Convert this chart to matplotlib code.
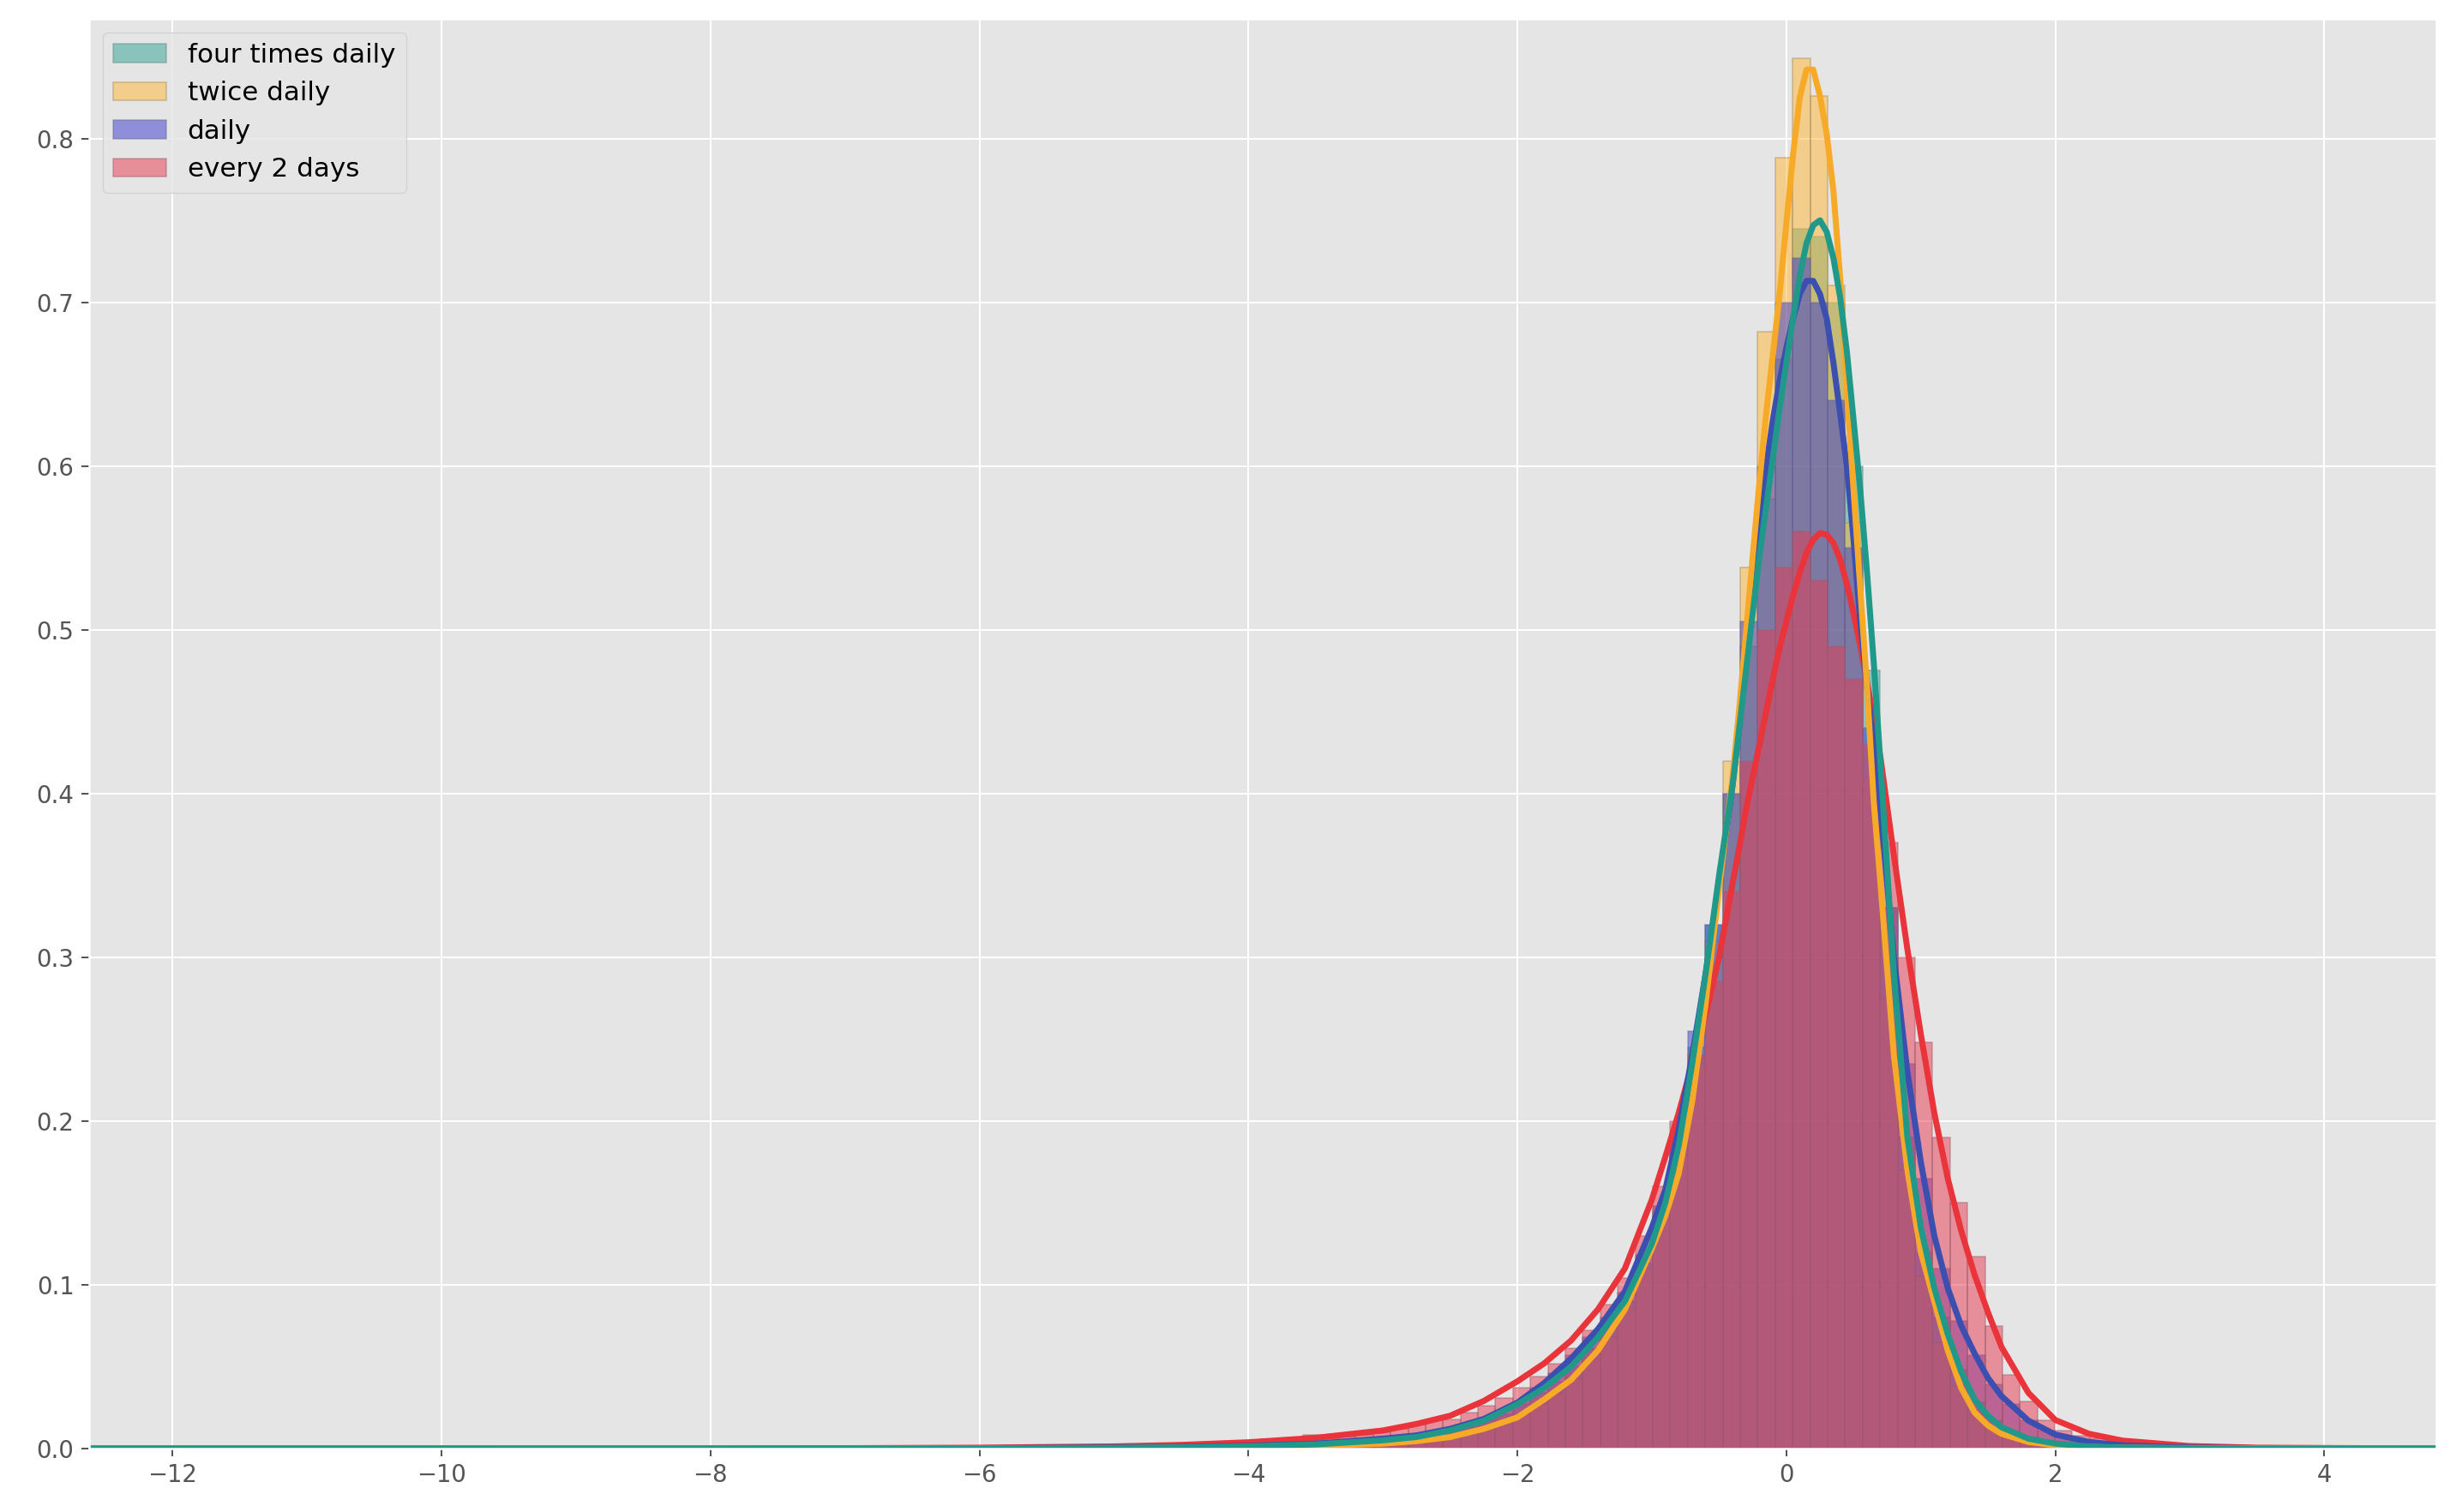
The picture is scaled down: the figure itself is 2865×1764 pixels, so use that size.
import matplotlib
matplotlib.use('Agg')
import matplotlib.pyplot as plt
import numpy as np

plt.style.use('ggplot')

labels = ['four times daily', 'twice daily', 'daily', 'every 2 days']

# fitted density curves (they run over the whole x range)
curve_x = [-12.62, -10.0, -8.0, -7.0, -6.0, -5.0, -4.5, -4.0, -3.5, -3.0, -2.75, -2.5, -2.25, -2.0,
           -1.8, -1.6, -1.4, -1.2, -1.0, -0.9, -0.8, -0.7, -0.6, -0.5, -0.4, -0.35, -0.3, -0.25,
           -0.2, -0.15, -0.1, -0.05, 0.0, 0.05, 0.1, 0.15, 0.2, 0.25, 0.3, 0.35, 0.4, 0.45, 0.5,
           0.55, 0.6, 0.65, 0.7, 0.8, 0.9, 1.0, 1.1, 1.2, 1.3, 1.4, 1.5, 1.6, 1.8, 2.0, 2.25, 2.5,
           3.0, 3.5, 4.83]

pdf_four = [0, 0, 0, 0.00005, 0.0001, 0.0004, 0.0007, 0.0013, 0.0025, 0.005, 0.007, 0.011, 0.017, 0.027,
            0.037, 0.05, 0.068, 0.09, 0.125, 0.15, 0.185, 0.235, 0.29, 0.35, 0.405, 0.44, 0.475, 0.51,
            0.545, 0.575, 0.605, 0.635, 0.663, 0.69, 0.716, 0.736, 0.747, 0.750, 0.743, 0.727, 0.703, 0.67, 0.628,
            0.585, 0.535, 0.48, 0.418, 0.29, 0.19, 0.135, 0.098, 0.07, 0.047, 0.03, 0.02, 0.013, 0.006, 0.003, 0.0012, 0.0005,
            0.0001, 0, 0]

pdf_twice = [0, 0, 0, 0.00005, 0.0001, 0.0002, 0.0004, 0.0008, 0.0015, 0.003, 0.0045, 0.007, 0.012, 0.019,
             0.03, 0.042, 0.06, 0.085, 0.122, 0.142, 0.168, 0.212, 0.272, 0.342, 0.41, 0.452, 0.498, 0.545,
             0.59, 0.632, 0.668, 0.705, 0.748, 0.79, 0.825, 0.842, 0.842, 0.826, 0.803, 0.768, 0.715, 0.645, 0.585,
             0.525, 0.465, 0.395, 0.345, 0.24, 0.17, 0.12, 0.09, 0.06, 0.037, 0.022, 0.014, 0.009, 0.004, 0.002, 0.001, 0.0005,
             0.0002, 0.0001, 0]

pdf_daily = [0, 0, 0.00005, 0.0001, 0.0002, 0.0006, 0.001, 0.0017, 0.003, 0.006, 0.008, 0.012, 0.018, 0.028,
             0.04, 0.055, 0.073, 0.096, 0.135, 0.158, 0.195, 0.24, 0.29, 0.345, 0.405, 0.44, 0.485, 0.53,
             0.57, 0.60, 0.628, 0.652, 0.672, 0.69, 0.705, 0.713, 0.713, 0.705, 0.69, 0.663, 0.632, 0.60, 0.555,
             0.505, 0.465, 0.43, 0.39, 0.30, 0.23, 0.175, 0.13, 0.098, 0.075, 0.058, 0.043, 0.032, 0.017, 0.0085, 0.004, 0.002,
             0.0006, 0.0002, 0]

pdf_2days = [0, 0.00005, 0.0001, 0.0002, 0.0005, 0.0013, 0.0022, 0.0038, 0.0065, 0.011, 0.015, 0.02, 0.029, 0.041,
             0.052, 0.066, 0.085, 0.11, 0.152, 0.178, 0.205, 0.235, 0.265, 0.30, 0.345, 0.367, 0.39, 0.41,
             0.43, 0.45, 0.47, 0.489, 0.505, 0.521, 0.535, 0.547, 0.555, 0.559, 0.558, 0.553, 0.543, 0.528, 0.51,
             0.49, 0.468, 0.445, 0.422, 0.362, 0.305, 0.253, 0.205, 0.165, 0.133, 0.106, 0.083, 0.062, 0.034, 0.0174, 0.009, 0.0048,
             0.0015, 0.0005, 0]

# histogram bar heights (density), bins of width 0.13 starting at -5.153
bin_start = -5.153
bin_width = 0.13

hist_four = [0.0004, 0.0004, 0.0005, 0.0005, 0.0006, 0.0007, 0.0008, 0.0009, 0.0011, 0.0013,
             0.0015, 0.0018, 0.0022, 0.0026, 0.0031, 0.0037, 0.0045, 0.0055, 0.0068, 0.0085,
             0.0105, 0.013, 0.017, 0.021, 0.027, 0.034, 0.041, 0.05, 0.061, 0.074, 0.09, 0.113, 0.14,
             0.19, 0.245, 0.32, 0.40, 0.49, 0.58, 0.665,
             0.745, 0.74, 0.70, 0.60, 0.475, 0.33, 0.19,
             0.12, 0.08, 0.048, 0.028, 0.017, 0.01, 0.006, 0.0035, 0.0022, 0.0014, 0.0009, 0.0006,
             0.0004, 0.0003, 0.0002, 0.0001, 0.0001, 0, 0, 0, 0]

hist_twice = [0.0002, 0.0002, 0.0003, 0.0003, 0.0004, 0.0004, 0.0005, 0.0006, 0.0007, 0.0008,
              0.001, 0.0012, 0.0014, 0.0017, 0.002, 0.0025, 0.003, 0.0037, 0.0045, 0.0058,
              0.0072, 0.0095, 0.0125, 0.016, 0.021, 0.027, 0.034, 0.043, 0.055, 0.068, 0.086, 0.11, 0.145,
              0.18, 0.235, 0.31, 0.42, 0.538, 0.682, 0.788,
              0.849, 0.826, 0.71, 0.565, 0.41, 0.275, 0.17,
              0.105, 0.065, 0.038, 0.021, 0.012, 0.0075, 0.0045, 0.0025, 0.0015, 0.001, 0.0007, 0.0005,
              0.0003, 0.0002, 0.0001, 0.0001, 0.0001, 0, 0, 0, 0]

hist_daily = [0.0005, 0.0006, 0.0007, 0.0008, 0.0009, 0.001, 0.0011, 0.0013, 0.0015, 0.0017,
              0.002, 0.0023, 0.0027, 0.0032, 0.0038, 0.0045, 0.0055, 0.0066, 0.008, 0.0097,
              0.012, 0.015, 0.019, 0.023, 0.029, 0.037, 0.046, 0.057, 0.068, 0.08, 0.095, 0.118, 0.148,
              0.19, 0.255, 0.32, 0.40, 0.505, 0.60, 0.70,
              0.727, 0.70, 0.64, 0.55, 0.44, 0.33, 0.235,
              0.165, 0.11, 0.078, 0.057, 0.039, 0.027, 0.017, 0.011, 0.007, 0.0045, 0.003, 0.002,
              0.0015, 0.0011, 0.0008, 0.0006, 0.0004, 0.0003, 0.0002, 0.0002, 0.0001]

hist_2days = [0.0012, 0.0014, 0.0016, 0.0018, 0.002, 0.0022, 0.0025, 0.0029, 0.0033, 0.0038,
              0.0043, 0.0049, 0.0085, 0.0064, 0.0073, 0.0085, 0.01, 0.012, 0.0145, 0.017,
              0.018, 0.022, 0.026, 0.031, 0.037, 0.044, 0.052, 0.061, 0.072, 0.088, 0.104, 0.13, 0.16,
              0.2, 0.24, 0.285, 0.34, 0.42, 0.50, 0.538,
              0.560, 0.53, 0.49, 0.47, 0.43, 0.37, 0.30,
              0.248, 0.19, 0.15, 0.117, 0.075, 0.045, 0.029, 0.017, 0.011, 0.008, 0.006, 0.0045,
              0.0035, 0.0027, 0.002, 0.0015, 0.0011, 0.0008, 0.0006, 0.0005, 0.0004]

hist_values = [hist_four, hist_twice, hist_daily, hist_2days]
pdf_values = [pdf_four, pdf_twice, pdf_daily, pdf_2days]
hist_colors = ['#2fa393', '#ffb733', '#3838d0', '#e83a50']
edge_colors = ['#5f8a84', '#a08a60', '#6a6a98', '#9a6070']
line_colors = ['#21998a', '#f7aa28', '#3a4fb0', '#e8343a']

bin_left = bin_start + bin_width * np.arange(len(hist_four))

fig = plt.figure(figsize=(15.92, 9.8), dpi=180)
ax = fig.add_axes([0.0363, 0.042, 0.9553, 0.9455])

for lab, h, c, ec in zip(labels, hist_values, hist_colors, edge_colors):
    ax.bar(bin_left, h, width=bin_width, align='edge', color=c, alpha=0.5,
           edgecolor=ec, linewidth=0.6, label=lab)

# curves on top of the bars, four times daily drawn last
for y, lc in reversed(list(zip(pdf_values, line_colors))):
    ax.plot(curve_x, y, color=lc, lw=2.8)

ax.set_xlim(-12.62, 4.83)
ax.set_ylim(0, 0.873)
ax.set_xticks(np.arange(-12, 5, 2))
ax.set_yticks(np.arange(0, 0.81, 0.1))
ax.tick_params(labelsize=11)
ax.legend(loc='upper left', fontsize=12.4)

fig.savefig('out.png', dpi=180)
